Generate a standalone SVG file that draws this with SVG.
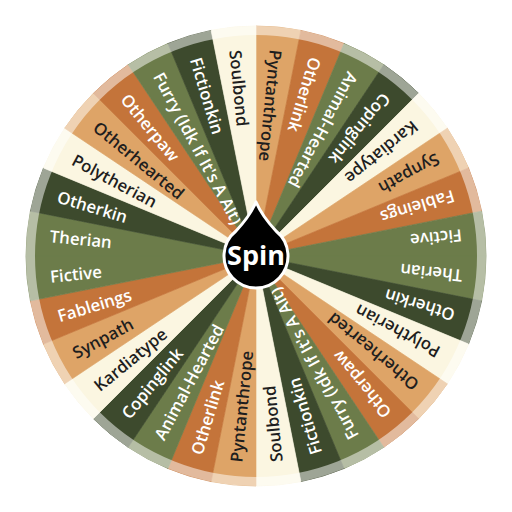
<svg xmlns="http://www.w3.org/2000/svg" xmlns:xlink="http://www.w3.org/1999/xlink" width="512" height="512" viewBox="0 0 512 512">
<defs>
<style>
.cr{fill:#FBF6E1;stroke:#FBF6E1}
.tn{fill:#DEA467;stroke:#DEA467}
.or{fill:#C4743A;stroke:#C4743A}
.ol{fill:#6C7C4A;stroke:#6C7C4A}
.dk{fill:#3D4A2D;stroke:#3D4A2D}
use{stroke-width:0.6}
text.l{font-family:"Open Sans","Liberation Sans",sans-serif;font-weight:600;font-size:16.8px;dominant-baseline:central}
.td{fill:#1E1E1E}
.tw{fill:#FFFFFF}
</style>
<path id="w" d="M256,256 L256,26 A230,230 0 0,1 300.87,30.42 Z"/>
</defs>
<rect width="512" height="512" fill="#FFFFFF"/>
<g id="seg-0"><use href="#w" class="tn" transform="rotate(0 256 256)"/><text class="l td" x="49" y="256" transform="rotate(95.625 256 256)">Pyntanthrope</text></g>
<g id="seg-1"><use href="#w" class="or" transform="rotate(11.25 256 256)"/><text class="l tw" x="49" y="256" transform="rotate(106.875 256 256)">Otherlink</text></g>
<g id="seg-2"><use href="#w" class="ol" transform="rotate(22.5 256 256)"/><text class="l tw" x="49" y="256" transform="rotate(118.125 256 256)">Animal-Hearted</text></g>
<g id="seg-3"><use href="#w" class="dk" transform="rotate(33.75 256 256)"/><text class="l tw" x="49" y="256" transform="rotate(129.375 256 256)">Copinglink</text></g>
<g id="seg-4"><use href="#w" class="cr" transform="rotate(45 256 256)"/><text class="l td" x="49" y="256" transform="rotate(140.625 256 256)">Kardiatype</text></g>
<g id="seg-5"><use href="#w" class="tn" transform="rotate(56.25 256 256)"/><text class="l td" x="49" y="256" transform="rotate(151.875 256 256)">Synpath</text></g>
<g id="seg-6"><use href="#w" class="or" transform="rotate(67.5 256 256)"/><text class="l tw" x="49" y="256" transform="rotate(163.125 256 256)">Fableings</text></g>
<g id="seg-7"><use href="#w" class="ol" transform="rotate(78.75 256 256)"/><text class="l tw" x="49" y="256" transform="rotate(174.375 256 256)">Fictive</text></g>
<g id="seg-8"><use href="#w" class="ol" transform="rotate(90 256 256)"/><text class="l tw" x="49" y="256" transform="rotate(185.625 256 256)">Therian</text></g>
<g id="seg-9"><use href="#w" class="dk" transform="rotate(101.25 256 256)"/><text class="l tw" x="49" y="256" transform="rotate(196.875 256 256)">Otherkin</text></g>
<g id="seg-10"><use href="#w" class="cr" transform="rotate(112.5 256 256)"/><text class="l td" x="49" y="256" transform="rotate(208.125 256 256)">Polytherian</text></g>
<g id="seg-11"><use href="#w" class="tn" transform="rotate(123.75 256 256)"/><text class="l td" x="49" y="256" transform="rotate(219.375 256 256)">Otherhearted</text></g>
<g id="seg-12"><use href="#w" class="or" transform="rotate(135 256 256)"/><text class="l tw" x="49" y="256" transform="rotate(230.625 256 256)">Otherpaw</text></g>
<g id="seg-13"><use href="#w" class="ol" transform="rotate(146.25 256 256)"/><text class="l tw" x="49" y="256" transform="rotate(241.875 256 256)">Furry (Idk If It's A Alt)</text></g>
<g id="seg-14"><use href="#w" class="dk" transform="rotate(157.5 256 256)"/><text class="l tw" x="49" y="256" transform="rotate(253.125 256 256)">Fictionkin</text></g>
<g id="seg-15"><use href="#w" class="cr" transform="rotate(168.75 256 256)"/><text class="l td" x="49" y="256" transform="rotate(264.375 256 256)">Soulbond</text></g>
<g id="seg-16"><use href="#w" class="tn" transform="rotate(180 256 256)"/><text class="l td" x="49" y="256" transform="rotate(275.625 256 256)">Pyntanthrope</text></g>
<g id="seg-17"><use href="#w" class="or" transform="rotate(191.25 256 256)"/><text class="l tw" x="49" y="256" transform="rotate(286.875 256 256)">Otherlink</text></g>
<g id="seg-18"><use href="#w" class="ol" transform="rotate(202.5 256 256)"/><text class="l tw" x="49" y="256" transform="rotate(298.125 256 256)">Animal-Hearted</text></g>
<g id="seg-19"><use href="#w" class="dk" transform="rotate(213.75 256 256)"/><text class="l tw" x="49" y="256" transform="rotate(309.375 256 256)">Copinglink</text></g>
<g id="seg-20"><use href="#w" class="cr" transform="rotate(225 256 256)"/><text class="l td" x="49" y="256" transform="rotate(320.625 256 256)">Kardiatype</text></g>
<g id="seg-21"><use href="#w" class="tn" transform="rotate(236.25 256 256)"/><text class="l td" x="49" y="256" transform="rotate(331.875 256 256)">Synpath</text></g>
<g id="seg-22"><use href="#w" class="or" transform="rotate(247.5 256 256)"/><text class="l tw" x="49" y="256" transform="rotate(343.125 256 256)">Fableings</text></g>
<g id="seg-23"><use href="#w" class="ol" transform="rotate(258.75 256 256)"/><text class="l tw" x="49" y="256" transform="rotate(354.375 256 256)">Fictive</text></g>
<g id="seg-24"><use href="#w" class="ol" transform="rotate(270 256 256)"/><text class="l tw" x="49" y="256" transform="rotate(5.625 256 256)">Therian</text></g>
<g id="seg-25"><use href="#w" class="dk" transform="rotate(281.25 256 256)"/><text class="l tw" x="49" y="256" transform="rotate(16.875 256 256)">Otherkin</text></g>
<g id="seg-26"><use href="#w" class="cr" transform="rotate(292.5 256 256)"/><text class="l td" x="49" y="256" transform="rotate(28.125 256 256)">Polytherian</text></g>
<g id="seg-27"><use href="#w" class="tn" transform="rotate(303.75 256 256)"/><text class="l td" x="49" y="256" transform="rotate(39.375 256 256)">Otherhearted</text></g>
<g id="seg-28"><use href="#w" class="or" transform="rotate(315 256 256)"/><text class="l tw" x="49" y="256" transform="rotate(50.625 256 256)">Otherpaw</text></g>
<g id="seg-29"><use href="#w" class="ol" transform="rotate(326.25 256 256)"/><text class="l tw" x="49" y="256" transform="rotate(61.875 256 256)">Furry (Idk If It's A Alt)</text></g>
<g id="seg-30"><use href="#w" class="dk" transform="rotate(337.5 256 256)"/><text class="l tw" x="49" y="256" transform="rotate(73.125 256 256)">Fictionkin</text></g>
<g id="seg-31"><use href="#w" class="cr" transform="rotate(348.75 256 256)"/><text class="l td" x="49" y="256" transform="rotate(84.375 256 256)">Soulbond</text></g>
<g id="rim"><circle cx="256" cy="256" r="225.5" fill="none" stroke="#FFFFFF" stroke-width="9" opacity="0.5"/></g>
<g id="spin-button">
<path d="M256,202 Q262,216 276,231 A32,32 0 1,1 236,231 Q250,216 256,202 Z" fill="#000000" stroke="#FFFFFF" stroke-width="3" stroke-linejoin="round"/>
<text x="256" y="264.5" text-anchor="middle" font-family="'Open Sans','Liberation Sans',sans-serif" font-weight="700" font-size="27" fill="#FFFFFF">Spin</text>
</g>
</svg>
